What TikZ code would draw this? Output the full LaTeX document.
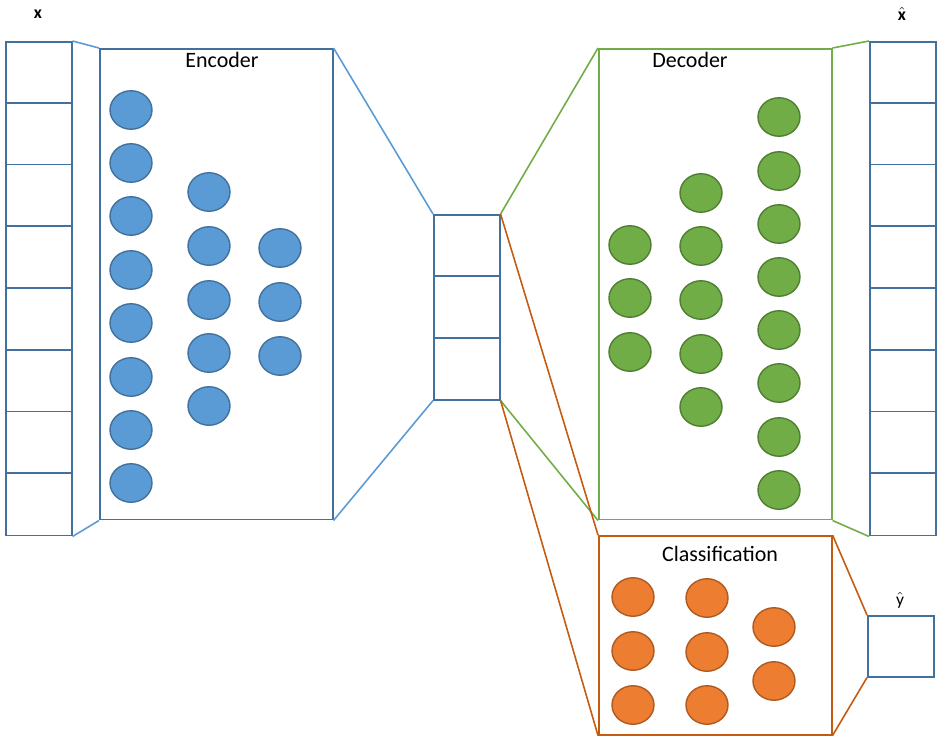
\documentclass[tikz,border=0pt]{standalone}
\usepackage{fontspec}
\setmainfont{Carlito}
\usetikzlibrary{shapes.geometric}
\definecolor{bl}{HTML}{5B9BD5}\definecolor{blD}{HTML}{41719C}
\definecolor{gr}{HTML}{70AD47}\definecolor{grD}{HTML}{507E32}
\definecolor{orF}{HTML}{ED7D31}\definecolor{orD}{HTML}{AE5A21}\definecolor{orL}{HTML}{C55A11}
\begin{document}
\begin{tikzpicture}[x=0.02cm,y=-0.02cm,
 box/.style={draw=#1,line width=0.9pt},
 cell/.style={draw=blD,line width=0.9pt,minimum width=1.32cm,minimum height=#1,inner sep=0,anchor=north west},
 neu/.style={ellipse,draw=#1,line width=0.8pt,minimum width=0.84cm,minimum height=0.77cm,inner sep=0},
 bn/.style={neu=blD,fill=bl}, gn/.style={neu=grD,fill=gr}, on/.style={neu=orD,fill=orF},
 lab/.style={font=\fontsize{12.5}{15}\selectfont}]
\useasboundingbox (0,0) rectangle (941,741);
% input
\node[cell=9.88cm] (in) at (5,41) {};
\foreach \i in {1,...,7}{\draw[blD,line width=0.9pt] (5,41+61.75*\i) -- (71,41+61.75*\i);}
\node (lx) at (38,14) {$\mathbf{x}$};
% output
\node[cell=9.88cm] (out) at (869,41) {};
\foreach \i in {1,...,7}{\draw[blD,line width=0.9pt] (869,41+61.75*\i) -- (935,41+61.75*\i);}
\node (lxh) at (902,14) {$\hat{\mathbf{x}}$};
% latent
\node[cell=3.7cm] (z) at (433,214) {};
\draw[blD,line width=0.9pt] (433,276) -- (499,276) (433,338) -- (499,338);
% y hat
\node[cell=1.22cm] (yh) at (867,615) {};
\node (lyh) at (900,600) {$\hat{\mathrm{y}}$};
% encoder
\node[box=blD,minimum width=4.66cm,minimum height=9.42cm,inner sep=0,anchor=north west] (enc) at (99,48) {};
\node[lab] (le) at (222,60) {Encoder};
\draw[bl,line width=0.9pt] (in.north east) -- (enc.north west) (in.south east) -- (enc.south west)
 (enc.north east) -- (z.north west) (enc.south east) -- (z.south west);
\foreach \y [count=\k] in {110,163,216,270,323,377,430,483}{\node[bn] (e1\k) at (131,\y) {};}
\foreach \y [count=\k] in {192,246,300,353,406}{\node[bn] (e2\k) at (209,\y) {};}
\foreach \y [count=\k] in {248,302,356}{\node[bn] (e3\k) at (280,\y) {};}
% decoder
\node[box=gr,minimum width=4.66cm,minimum height=9.42cm,inner sep=0,anchor=north west] (dec) at (598,48) {};
\node[lab] (ld) at (690,60) {Decoder};
\draw[gr,line width=0.9pt] (z.north east) -- (dec.north west) (z.south east) -- (dec.south west)
 (dec.north east) -- (out.north west) (dec.south east) -- (out.south west);
\foreach \y [count=\k] in {245,298,352}{\node[gn] (d1\k) at (630,\y) {};}
\foreach \y [count=\k] in {193,246,300,354,407}{\node[gn] (d2\k) at (701,\y) {};}
\foreach \y [count=\k] in {117,171,224,277,330,383,437,490}{\node[gn] (d3\k) at (779,\y) {};}
% classification
\node[box=orL,minimum width=4.66cm,minimum height=3.98cm,inner sep=0,anchor=north west] (cls) at (598,535) {};
\node[lab] (lc) at (720,554) {Classification};
\draw[orL,line width=0.9pt] (z.north east) -- (cls.north west) (z.south east) -- (cls.south west)
 (cls.north east) -- (yh.north west) (cls.south east) -- (yh.south west);
\foreach \y [count=\k] in {597,651,705}{\node[on] (c1\k) at (633,\y) {};}
\foreach \y [count=\k] in {598,652,705}{\node[on] (c2\k) at (707,\y) {};}
\foreach \y [count=\k] in {627,681}{\node[on] (c3\k) at (774,\y) {};}
\end{tikzpicture}
\end{document}
